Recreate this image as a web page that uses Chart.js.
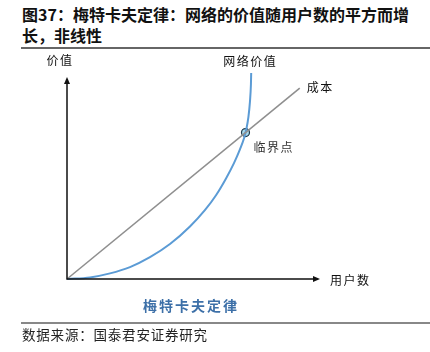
<!DOCTYPE html>
<html>
<head>
<meta charset="utf-8">
<script src="https://cdn.jsdelivr.net/npm/chart.js@4"></script>
<style>
    body { margin: 0; width: 430px; height: 352px; background: #fff; overflow: hidden; position: relative;
           font-family: "Noto Sans CJK SC", "Noto Sans", sans-serif; }
    #title { position: absolute; left: 22px; top: 4px; font-size: 16px; font-weight: bold; line-height: 21px;
             color: #111; white-space: nowrap; }
    .rule { position: absolute; left: 21px; right: 0; height: 1.5px; background: #666; }
    #chartBox { position: absolute; left: 0; top: 50px; width: 430px; height: 270px; }
    #lawName { position: absolute; left: 141px; width: 100px; top: 295px; text-align: center; font-size: 14px;
               font-weight: bold; color: #3d70a8; letter-spacing: 2px; }
    #source { position: absolute; left: 22px; top: 324px; font-size: 13.5px; color: #222; letter-spacing: 0.8px; }
</style>
</head>
<body>
<div id="title">图37：梅特卡夫定律：网络的价值随用户数的平方而增<br>长，非线性</div>
<div class="rule" style="top:47px"></div>
<div id="chartBox"><canvas id="metcalfeChart"></canvas></div>
<div id="lawName">梅特卡夫定律</div>
<div class="rule" style="top:322px; background:#888"></div>
<div id="source">数据来源：国泰君安证券研究</div>

<script>
// ========== DATA ==========
const userCounts    = [0, 9.1, 17.0, 24.9, 32.8, 40.7, 48.6, 54.5, 58.9, 62.8, 66.0, 68.4, 70.0, 70.9, 71.7, 72.3, 72.7, 72.8];
const networkValues = [0, 0.8, 2.8, 5.9, 10.8, 17.3, 26.0, 34.1, 41.5, 49.7, 57.4, 64.3, 69.8, 74.3, 80.2, 87.6, 96.5, 102];
const costUsers  = [0, 92];
const costValues = [0, 94.5];
const criticalPoint = [70.55, 72.5];
const axisEnd = [100, 100];   // end of the arrowed axes (users, value)

const curvePoints = userCounts.map((x, i) => ({ x: x, y: networkValues[i] }));
const costPoints = costUsers.map((x, i) => ({ x: x, y: costValues[i] }));

// ========== AXES + LABELS PLUGIN ==========
const axesPlugin = {
    id: 'axesPlugin',
    afterDraw(chart) {
        const ctx = chart.ctx;
        const xs = chart.scales.x, ys = chart.scales.y;
        const ox = xs.getPixelForValue(0), oy = ys.getPixelForValue(0);
        const ex = xs.getPixelForValue(axisEnd[0]);
        const ey = ys.getPixelForValue(axisEnd[1]);

        ctx.save();
        ctx.strokeStyle = '#111';
        ctx.fillStyle = '#111';
        ctx.lineWidth = 1.5;
        ctx.beginPath();
        ctx.moveTo(ox, ey + 4);
        ctx.lineTo(ox, oy);
        ctx.lineTo(ex - 4, oy);
        ctx.stroke();
        // arrow heads
        ctx.beginPath();
        ctx.moveTo(ox, ey); ctx.lineTo(ox - 3, ey + 7); ctx.lineTo(ox + 3, ey + 7); ctx.closePath(); ctx.fill();
        ctx.beginPath();
        ctx.moveTo(ex, oy); ctx.lineTo(ex - 7, oy - 3); ctx.lineTo(ex - 7, oy + 3); ctx.closePath(); ctx.fill();

        // text labels
        ctx.textBaseline = 'middle';
        ctx.font = '12px "Noto Sans CJK SC"';
        ctx.letterSpacing = '1.5px';
        ctx.fillStyle = '#111';

        ctx.textAlign = 'center';
        ctx.fillText('价值', ox - 7, ey - 17);
        const top = curvePoints[curvePoints.length - 1];
        ctx.fillText('网络价值', xs.getPixelForValue(top.x) - 1, ys.getPixelForValue(top.y) - 12);

        ctx.textAlign = 'left';
        ctx.fillText('用户数', ex + 10, oy + 1);
        const costEnd = costPoints[costPoints.length - 1];
        ctx.fillText('成本', xs.getPixelForValue(costEnd.x) + 7, ys.getPixelForValue(costEnd.y) - 1);

        ctx.fillStyle = '#333';
        ctx.fillText('临界点', xs.getPixelForValue(criticalPoint[0]) + 8, ys.getPixelForValue(criticalPoint[1]) + 15);
        ctx.restore();
    }
};

// ========== CHART ==========
const ctx = document.getElementById('metcalfeChart').getContext('2d');
new Chart(ctx, {
    type: 'scatter',
    data: {
        datasets: [{
            label: '成本',
            data: costPoints,
            showLine: true,
            borderColor: '#8f8f8f',
            borderWidth: 1.6,
            pointRadius: 0
        }, {
            label: '网络价值',
            data: curvePoints,
            showLine: true,
            borderColor: '#5b9bd5',
            borderWidth: 2,
            cubicInterpolationMode: 'monotone',
            pointRadius: 0
        }, {
            label: '临界点',
            data: [{ x: criticalPoint[0], y: criticalPoint[1] }],
            pointRadius: 4,
            pointBackgroundColor: '#a8d9ec',
            pointBorderColor: '#1e3a4c',
            pointBorderWidth: 1.2
        }]
    },
    plugins: [axesPlugin],
    options: {
        responsive: true,
        maintainAspectRatio: false,
        animation: false,
        clip: false,
        layout: { padding: { left: 67, right: 110, top: 17, bottom: 41 } },
        plugins: {
            legend: { display: false },
            tooltip: { enabled: false }
        },
        scales: {
            x: { type: 'linear', min: 0, max: 100, display: false },
            y: { type: 'linear', min: 0, max: 105, display: false }
        }
    }
});
</script>
</body>
</html>
